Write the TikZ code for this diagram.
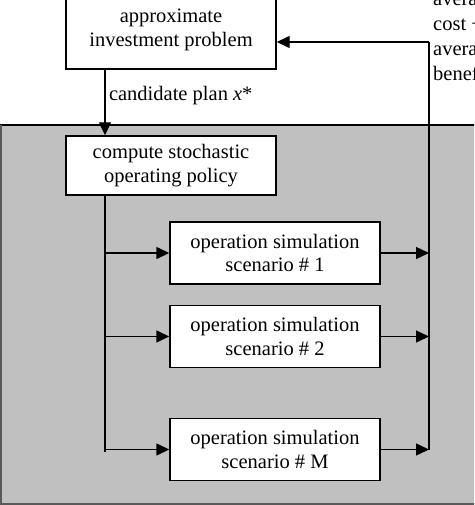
\documentclass[tikz,border=0pt]{standalone}
\usepackage{fontspec}
\setmainfont{Liberation Serif}
\usepackage{tikz}
\usetikzlibrary{arrows.meta}
\usetikzlibrary{calc}
\definecolor{panelgray}{RGB}{192,192,192}
\tikzstyle{block}=[rectangle,draw=black,fill=white,line width=1.4pt,align=center,inner sep=0pt,font=\fontsize{20.5}{23.5}\selectfont]
\tikzstyle{flow}=[-{Triangle[length=13pt,width=12pt]},line width=1.4pt]
\tikzstyle{wire}=[-,line width=1.4pt]
\tikzstyle{note}=[anchor=base west,inner sep=0pt,font=\fontsize{20.5}{23.5}\selectfont]

\begin{document}
\begin{tikzpicture}[x=1pt,y=-1pt]
\useasboundingbox (0,0) rectangle (474,505);
\clip (0,0) rectangle (474,505);

%shaded area
\fill[panelgray] (0,125) rectangle (480,504);
\draw[line width=1.4pt] (0,125) -- (480,125);
\draw[black!65,line width=2pt] (0.5,125) -- (0.5,504) -- (480,504);

%boxes
\node[block,minimum width=210pt,minimum height=78pt] (invest) at (171,30) {approximate\\investment problem};
\node[block,minimum width=210pt,minimum height=59pt] (policy) at (171,165.5) {compute stochastic\\operating policy};
\foreach \pos/\name/\label in {{(275,253)/sim1/1}, {(275,336.5)/sim2/2}, {(275,449.5)/simM/M}}
    \node[block,minimum width=210pt,minimum height=62pt] (\name) at \pos {operation simulation\\scenario \# \label};

%right text
\foreach \y/\name/\txt in {6/noteA/average, 31/noteB/cost +, 56/noteC/average, 81/noteD/benefit}
    \node[note] (\name) at (433,\y) {\txt};

%connectors
\coordinate (trunk) at (105,452);
\coordinate (ret) at (429,42);
\draw[flow] (invest.south -| trunk) -- node[pos=0.4,right,font=\fontsize{20.5}{23.5}\selectfont] (cand) {candidate plan \textit{x}*} (policy.north -| trunk);
\draw[wire] (policy.south -| trunk) -- (trunk);
\foreach \name in {sim1, sim2, simM}
    \draw[flow] (trunk |- \name.west) -- (\name.west);
\foreach \name in {sim1, sim2, simM}
    \draw[flow] (\name.east) -- (\name.east -| ret);
\draw[wire] (simM.east -| ret) -- (ret);
\draw[flow] (ret) -- (invest.east |- ret);

\end{tikzpicture}
\end{document}
